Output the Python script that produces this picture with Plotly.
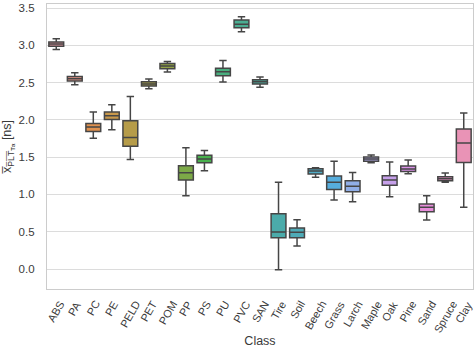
import math
import colorsys
import plotly.graph_objects as go

classes = ["ABS", "PA", "PC", "PE", "PELD", "PET", "POM", "PP", "PS", "PU", "PVC", "SAN",
           "Tire", "Soil", "Beech", "Grass", "Larch", "Maple", "Oak", "Pine", "Sand", "Spruce", "Clay"]
lower = [2.945, 2.471, 1.752, 1.867, 1.470, 2.417, 2.641, 0.983, 1.318, 2.507, 3.181, 2.436,
         -0.01, 0.308, 1.229, 0.925, 0.902, 1.425, 0.969, 1.278, 0.657, 1.162, 0.827]
q1 = [2.989, 2.520, 1.845, 2.006, 1.645, 2.453, 2.685, 1.193, 1.425, 2.591, 3.235, 2.480,
      0.420, 0.420, 1.273, 1.068, 1.037, 1.444, 1.122, 1.309, 0.768, 1.184, 1.430]
median = [3.016, 2.551, 1.903, 2.055, 1.765, 2.480, 2.721, 1.290, 1.475, 2.645, 3.284, 2.511,
          0.496, 0.492, 1.314, 1.162, 1.109, 1.475, 1.193, 1.340, 0.827, 1.210, 1.689]
q3 = [3.043, 2.583, 1.953, 2.105, 1.988, 2.511, 2.757, 1.385, 1.524, 2.694, 3.338, 2.538,
      0.741, 0.550, 1.345, 1.247, 1.184, 1.501, 1.251, 1.381, 0.871, 1.237, 1.877]
upper = [3.088, 2.632, 2.105, 2.203, 2.315, 2.547, 2.784, 1.626, 1.591, 2.797, 3.382, 2.574,
         1.162, 0.661, 1.358, 1.444, 1.296, 1.528, 1.434, 1.461, 0.983, 1.287, 2.091]
yticks = [0.0, 0.5, 1.0, 1.5, 2.0, 2.5, 3.0, 3.5]

# --- husl palette (seaborn style) ---
M = [[3.2406, -1.5372, -0.4986], [-0.9689, 1.8758, 0.0415], [0.0557, -0.2040, 1.0570]]
refU, refV = 0.19784, 0.46834
lab_e, lab_k = 0.008856, 903.3


def max_chroma(L, H):
    hrad = math.radians(H)
    sinH, cosH = math.sin(hrad), math.cos(hrad)
    sub1 = (L + 16) ** 3 / 1560896.0
    sub2 = sub1 if sub1 > lab_e else L / lab_k
    result = float("inf")
    for m1, m2, m3 in M:
        top = (0.99915 * m1 + 1.05122 * m2 + 1.14460 * m3) * sub2
        rbottom = 0.86330 * m3 - 0.17266 * m2
        lbottom = 0.12949 * m3 - 0.38848 * m1
        bottom = (rbottom * sinH + lbottom * cosH) * sub2
        for t in (0.0, 1.0):
            C = L * (top - 1.05122 * t) / (bottom + 0.17266 * sinH * t)
            if 0 < C < result:
                result = C
    return result


def husl_to_rgb(H, S, L):
    C = max_chroma(L, H) / 100.0 * S
    hrad = math.radians(H)
    U, V = math.cos(hrad) * C, math.sin(hrad) * C
    t = (L + 16) / 116.0
    Y = t ** 3 if t ** 3 > lab_e else (116 * t - 16) / lab_k
    varU = U / (13 * L) + refU
    varV = V / (13 * L) + refV
    X = -(9 * Y * varU) / ((varU - 4) * varV - varU * varV)
    Z = (9 * Y - 15 * varV * Y - varV * X) / (3 * varV)
    out = []
    for row in M:
        c = row[0] * X + row[1] * Y + row[2] * Z
        c = 12.92 * c if c <= 0.0031308 else 1.055 * c ** (1 / 2.4) - 0.055
        out.append(min(max(c, 0.0), 1.0))
    return out


n = len(classes)
colors = []
lights = []
for i in range(n):
    h = ((i / n + 0.01) % 1) * 359
    r, g, b = husl_to_rgb(h, 0.9 * 99, 0.7 * 99)
    hh, ll, ss = colorsys.rgb_to_hls(r, g, b)
    r, g, b = colorsys.hls_to_rgb(hh, ll, ss * 0.75)
    lights.append(ll)
    colors.append("rgb(%d,%d,%d)" % (round(r * 255), round(g * 255), round(b * 255)))
lum = int(round(min(lights) * 0.6 * 255))
gray = "rgb(%d,%d,%d)" % (lum, lum, lum)

font_family = "Liberation Sans, Arial, sans-serif"
text_color = "#3a3a3a"

fig = go.Figure()
for i, c in enumerate(classes):
    fig.add_trace(go.Box(
        x=[c], q1=[q1[i]], median=[median[i]], q3=[q3[i]],
        lowerfence=[lower[i]], upperfence=[upper[i]],
        fillcolor=colors[i], line=dict(color=gray, width=1.5),
        width=0.8, whiskerwidth=0.5, boxpoints=False, showlegend=False,
        hoverinfo="skip",
    ))

for c in classes:
    fig.add_annotation(x=c, xref="x", y=0, yref="paper", yshift=-7,
                       text=c, textangle=-60, showarrow=False,
                       xanchor="center", yanchor="top",
                       font=dict(family=font_family, size=11, color=text_color))

fig.update_layout(
    width=474, height=354,
    margin=dict(l=47, r=1, t=4, b=65),
    paper_bgcolor="white", plot_bgcolor="white",
    boxmode="overlay",
    font=dict(family=font_family, size=11, color=text_color),
)
fig.update_xaxes(
    type="category", categoryorder="array", categoryarray=classes,
    range=[-0.5, n - 0.5],
    showgrid=False, showticklabels=False, ticks="",
    showline=True, mirror=True, linecolor="#cccccc", linewidth=1.3,
    title=dict(text="Class", standoff=47, font=dict(size=12.5, color=text_color)),
    automargin=False,
)
fig.update_yaxes(
    range=[-0.268, 3.554], tickvals=yticks, tickformat=".1f",
    showgrid=True, gridcolor="#dcdcdc", gridwidth=1, zeroline=False,
    showline=True, mirror=True, linecolor="#cccccc", linewidth=1.3,
    ticks="", ticklabelstandoff=9,
    tickfont=dict(size=11.5, color=text_color),
    title=dict(text="x\u0305<sub>P\u0305L\u0305T\u0305<sub>T\u0305a\u0305</sub></sub> [ns]",
               standoff=6, font=dict(size=12.5, color=text_color)),
    automargin=False,
)

fig.write_html("out.html")
